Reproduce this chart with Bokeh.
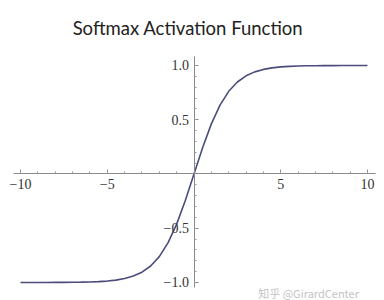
from bokeh.plotting import figure
from bokeh.models import LinearAxis, FixedTicker, Label, ColumnDataSource
from bokeh.embed import file_html
from bokeh.resources import INLINE

# Curve values
x_vals = [-10, -9.5, -9, -8.5, -8, -7.5, -7, -6.5, -6, -5.5, -5, -4.5, -4, -3.5, -3, -2.5, -2, -1.5, -1, -0.5,
          0, 0.5, 1, 1.5, 2, 2.5, 3, 3.5, 4, 4.5, 5, 5.5, 6, 6.5, 7, 7.5, 8, 8.5, 9, 9.5, 10]
y_vals = [-1.0, -1.0, -1.0, -1.0, -0.999, -0.999, -0.998, -0.997, -0.995, -0.992, -0.987, -0.978, -0.964, -0.941,
          -0.905, -0.848, -0.762, -0.635, -0.462, -0.245,
          0.0, 0.245, 0.462, 0.635, 0.762, 0.848, 0.905, 0.941, 0.964, 0.978, 0.987, 0.992, 0.995, 0.997, 0.998,
          0.999, 0.999, 1.0, 1.0, 1.0, 1.0]

x_major = [-10, -5, 5, 10]
x_minor = [-10, -9, -8, -7, -6, -5, -4, -3, -2, -1, 1, 2, 3, 4, 5, 6, 7, 8, 9, 10]
x_labels = {-10: "\u221210", -5: "\u22125", 5: "5", 10: "10"}
y_major = [-1.0, -0.5, 0.5, 1.0]
y_minor = [-1.0, -0.9, -0.8, -0.7, -0.6, -0.5, -0.4, -0.3, -0.2, -0.1,
           0.1, 0.2, 0.3, 0.4, 0.5, 0.6, 0.7, 0.8, 0.9, 1.0]
y_labels = {-1: "\u22121.0", -0.5: "\u22120.5", 0.5: "0.5", 1: "1.0"}

title_text = "Softmax Activation Function"
watermark_text = "知乎 @GirardCenter"

p = figure(width=384, height=300, x_range=(-11.153, 10.98), y_range=(-1.166, 1.599),
           x_axis_type=None, y_axis_type=None, toolbar_location=None, output_backend="svg",
           min_border=0, outline_line_color=None)
p.grid.visible = False
p.background_fill_color = "white"
p.border_fill_color = "white"

src = ColumnDataSource(dict(x=x_vals, y=y_vals))
p.line("x", "y", source=src, line_color="#4a4d7c", line_width=1.6)

xaxis = LinearAxis(fixed_location=0, bounds=(-10.4, 10.45),
                   ticker=FixedTicker(ticks=x_major, minor_ticks=x_minor))
xaxis.major_label_overrides = x_labels
yaxis = LinearAxis(fixed_location=0, bounds=(-1.05, 1.08),
                   ticker=FixedTicker(ticks=y_major, minor_ticks=y_minor))
yaxis.major_label_overrides = y_labels
for ax in (xaxis, yaxis):
    ax.axis_line_color = "#8a8a8a"
    ax.axis_line_width = 1
    ax.major_tick_line_color = "#8a8a8a"
    ax.minor_tick_line_color = "#9a9a9a"
    ax.major_tick_in = 4
    ax.major_tick_out = 0
    ax.minor_tick_in = 2
    ax.minor_tick_out = 0
    ax.major_label_text_font = "'Liberation Serif', 'DejaVu Serif', serif"
    ax.major_label_text_font_size = "14px"
    ax.major_label_text_color = "#333333"
xaxis.major_label_standoff = 5
yaxis.major_label_standoff = 5
p.add_layout(xaxis, "below")
p.add_layout(yaxis, "left")

p.add_layout(Label(x=-0.35, y=1.35, text=title_text, text_align="center", text_baseline="alphabetic",
                   text_font="Lato", text_font_size="18.5px", text_color="#222222"))
p.add_layout(Label(x=3.7, y=-1.095, text=watermark_text, text_align="left", text_baseline="alphabetic",
                   text_font="Noto Sans CJK SC", text_font_size="11px", text_color="#c4c4c4"))

open("out.html", "w").write(file_html(p, INLINE))
